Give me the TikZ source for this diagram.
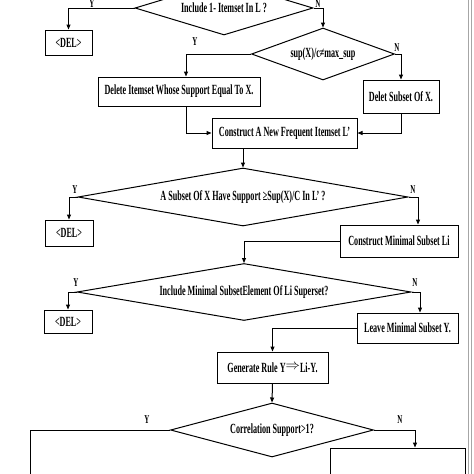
\documentclass[tikz,border=0pt]{standalone}
\usepackage{fontspec}
\setmainfont{Liberation Serif}[FakeStretch=0.58]
\usetikzlibrary{shapes.geometric,arrows.meta}
\tikzset{
  box/.style={draw,line width=1pt,rectangle,inner sep=0pt,font=\fontsize{14}{15}\selectfont\bfseries},
  dia/.style={draw,line width=1pt,diamond,inner sep=0pt,font=\fontsize{14}{15}\selectfont\bfseries},
  con/.style={line width=1pt,-{Triangle[length=5pt,width=4pt]}},
  plain/.style={line width=1pt},
  yn/.style={font=\fontsize{12}{13}\selectfont\bfseries,inner sep=0pt}
}
\begin{document}
\begin{tikzpicture}[x=1pt,y=-1pt]
\useasboundingbox (0,0) rectangle (474,474);
\clip (0,0) rectangle (474,474);
% diamonds
\node[dia,minimum width=178,minimum height=54,aspect=3.3] (d1) at (224,8) {Include 1- Itemset In L ?};
\node[dia,minimum width=143,minimum height=52,aspect=2.75] (d2) at (323,54) {sup(X)/c≠max\_sup};
\node[dia,minimum width=330,minimum height=58,aspect=5.7] (d3) at (243,197) {A Subset Of X Have Support ≥Sup(X)/C In L' ?};
\node[dia,minimum width=334,minimum height=57,aspect=5.8] (d4) at (244,292) {Include Minimal SubsetElement Of Li Superset?};
\node[dia,minimum width=203,minimum height=54,aspect=3.75] (d5) at (272,430) {Correlation Support>1?};
% boxes
\node[box,minimum width=47,minimum height=25] (del1) at (68.5,42.5) {<DEL>};
\node[box,minimum width=162,minimum height=29] (delitem) at (179,91.5) {Delete Itemset Whose Support Equal To X.};
\node[box,minimum width=76,minimum height=33] (delsub) at (401,96.5) {Delet Subset Of X.};
\node[box,minimum width=145,minimum height=30] (cons) at (284.5,133) {Construct A New Frequent Itemset L'};
\node[box,minimum width=48,minimum height=26] (del2) at (69,233) {<DEL>};
\node[box,minimum width=118,minimum height=32] (cms) at (399,241) {Construct Minimal Subset Li};
\node[box,minimum width=48,minimum height=23] (del3) at (68,321.5) {<DEL>};
\node[box,minimum width=101,minimum height=30] (leave) at (407.5,328) {Leave Minimal Subset Y.};
\node[box,minimum width=111,minimum height=31] (gen) at (272.5,367.5) {Generate Rule Y\raisebox{3pt}{$\Rightarrow$}Li-Y.};
\node[box,minimum width=135,minimum height=36] (last) at (397.5,466) {};
\coordinate (yend) at (30,480);
% connectors
\draw[con] (d1.west) -| (del1.north);
\draw[con] (d1.east) -| (d2.north);
\draw[con] (d2.west) -| ([xshift=7pt]delitem.north);
\draw[con] (d2.east) -| (delsub.north);
\draw[con] ([xshift=7pt]delitem.south) |- (cons.west);
\draw[con] (delsub.south) |- (cons.east);
\draw[con] (d3.north |- cons.south) -- (d3.north);
\draw[con] (d3.west) -| (del2.north);
\draw[con] (d3.east) -| ([xshift=19pt]cms.north);
\draw[con] (cms.west) -| (d4.north);
\draw[con] (d4.west) -| (del3.north);
\draw[con] (d4.east) -| ([xshift=12.5pt]leave.north);
\draw[con] (leave.west) -| (gen.north);
\draw[con] (gen.south) -- (d5.north);
\draw[plain] (d5.west) -| (yend);
\draw[con] (d5.east) -| ([xshift=17.5pt]last.north);
% Y/N labels
\node[yn] (y1) at (92,4) {Y};
\node[yn] (n1) at (318,4) {N};
\node[yn] (y2) at (195,42) {Y};
\node[yn] (n2) at (397,48) {N};
\node[yn] (y3) at (75,190) {Y};
\node[yn] (n3) at (413,190) {N};
\node[yn] (y4) at (76,283) {Y};
\node[yn] (n4) at (415,283) {N};
\node[yn] (y5) at (147,420) {Y};
\node[yn] (n5) at (400,420) {N};
% right page edge
\draw[gray!70,line width=0.8pt] (468,0) -- (468,474);
\draw[gray!70,line width=0.8pt] (471.5,0) -- (471.5,474);
\end{tikzpicture}
\end{document}
